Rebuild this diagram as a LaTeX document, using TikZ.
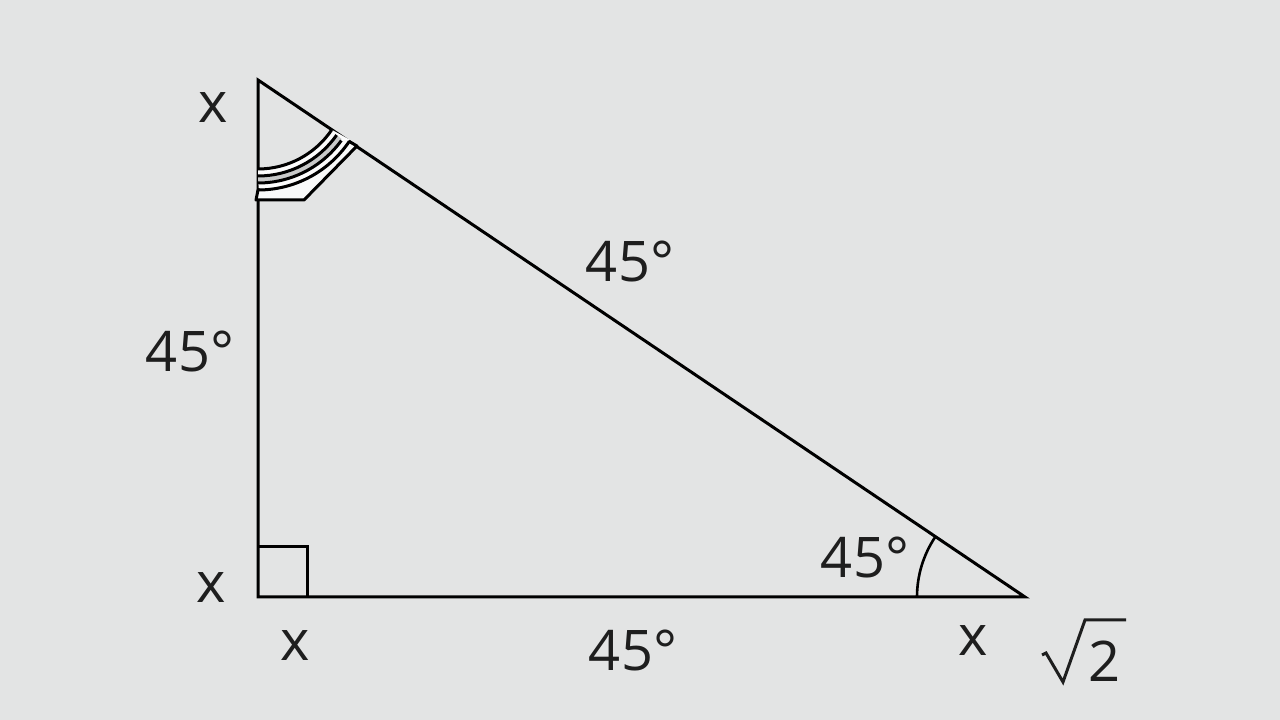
\documentclass[tikz,border=0pt]{standalone}
\usepackage{fontspec}
\setmainfont{Open Sans}
\definecolor{bg}{HTML}{E3E4E4}
\definecolor{ink}{HTML}{1E1E1E}
\begin{document}
\begin{tikzpicture}[x=1pt,y=1pt,
  lbl/.style={text=ink,inner sep=0pt,font=\fontsize{56}{60}\selectfont},
  edge/.style={draw=black,line width=3pt,line join=miter},
  anglemk/.style={draw=black,line width=3pt}]
\fill[bg] (0,0) rectangle (1280,720);
\useasboundingbox (0,0) rectangle (1280,720);
\coordinate (A) at (258,640);
\coordinate (B) at (258,123);
\coordinate (C) at (1025,123);
% triangle
\draw[edge] (A) -- (B) -- (C) -- cycle;
% right angle mark
\draw[anglemk] (258,173) -- (307,173) -- (307,123);
% bottom-right angle arc
\draw[line width=2.6pt] (C) ++(180:108) arc[start angle=180,end angle=146,radius=108];
% top angle mark (double arc and tab)
\fill[white!90!bg] (A) ++(270:89) arc[start angle=270,end angle=326,radius=89] -- ++(18,-10) arc[start angle=326,end angle=270,radius=110] -- cycle;
\fill[black!12!bg] (A) ++(270:96) arc[start angle=270,end angle=325,radius=96] -- ++(5,-4) arc[start angle=324,end angle=270,radius=103] -- cycle;
\draw[anglemk] (A) ++(270:89) arc[start angle=270,end angle=326,radius=89];
\draw[anglemk] (A) ++(270:96) arc[start angle=270,end angle=325,radius=96];
\draw[anglemk] (A) ++(270:103) arc[start angle=270,end angle=324,radius=103];
\draw[anglemk,fill=white!80!bg,line join=round] (A) ++(270:110) arc[start angle=270,end angle=326,radius=110] -- (357,574) -- (304,520) -- (256,520) -- cycle;
% labels
\node[lbl] (xa) at (213,612) {x};
\node[lbl] (l1) at (190,368) {45°};
\node[lbl] (l2) at (630,458) {45°};
\node[lbl] (l3) at (865,162) {45°};
\node[lbl] (xb) at (211,132) {x};
\node[lbl] (xc) at (295,74) {x};
\node[lbl] (l4) at (633,70) {45°};
\node[lbl] (xd) at (973,79) {x};
% sqrt 2
\node[lbl] (two) at (1104,59) {2};
\draw[line width=3pt,color=ink,line join=miter] (1042,65) -- (1046,67) -- (1063,38) -- (1085,100) -- (1126,100);
\end{tikzpicture}
\end{document}
